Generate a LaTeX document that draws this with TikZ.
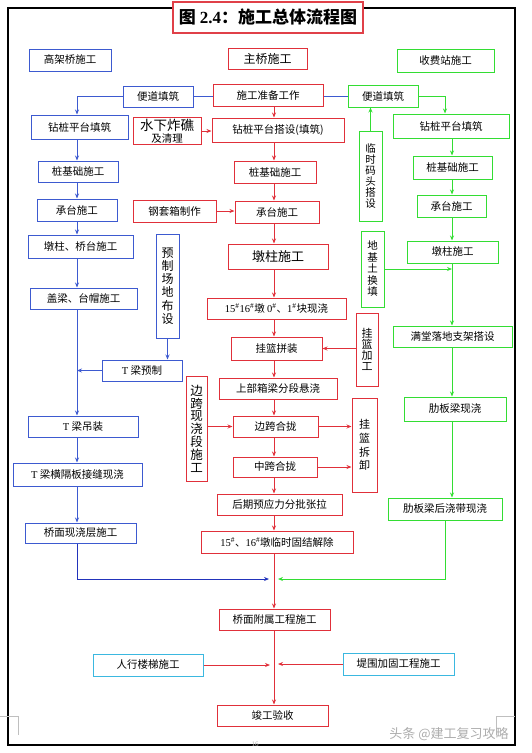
\documentclass[tikz,border=0pt]{standalone}
\usepackage{fontspec}
\setmainfont{Liberation Serif}
\newfontfamily\cjk{Noto Sans CJK SC}
\usetikzlibrary{arrows.meta}
\definecolor{blu}{HTML}{3D5AD0}
\definecolor{nav}{HTML}{2233BB}
\definecolor{rd}{HTML}{E0303A}
\definecolor{grn}{HTML}{33DD33}
\definecolor{cyn}{HTML}{3BB8E0}
\definecolor{ttl}{HTML}{E04048}
\newcommand\fz[2]{\fontsize{#1}{#2}\selectfont}
\newcommand\lat[1]{{\rmfamily #1}}
\tikzset{
  >={Stealth[length=5pt,width=4pt]},
  box/.style={draw, line width=1pt, fill=white, inner sep=1pt, align=center,
              font=\cjk\fz{10.5}{12}},
  wh/.style 2 args={minimum width=#1pt, minimum height=#2pt},
  bbox/.style={box, draw=blu},
  rbox/.style={box, draw=rd},
  gbox/.style={box, draw=grn},
  cbox/.style={box, draw=cyn},
  vbox/.style={text width=13pt, inner sep=0pt},
  bl/.style={->, line width=1pt, draw=blu},
  rl/.style={->, line width=1pt, draw=rd},
  gl/.style={->, line width=1pt, draw=grn},
}
\begin{document}
\begin{tikzpicture}[x=1pt,y=-1pt]
  \useasboundingbox (0,0) rectangle (532,753);
  \draw[line width=1.5pt] (8,8) rectangle (515,745);
  \draw[gray!50] (0,716) -- (18,716) -- (18,735) (496,735) -- (496,716) -- (515,716);
  \node[draw=ttl, line width=2.5pt, fill=white, wh={190}{31}, font=\cjk\bfseries\fz{17}{20}] (title) at (268,17.5) {图 \lat{\bfseries 2.4}：施工总体流程图};
  % left column
  \node[bbox,wh={82}{22}] (b0) at (70,60) {高架桥施工};
  \node[bbox,wh={70}{21}] (b1) at (158,96.5) {便道填筑};
  \node[bbox,wh={97}{24}] (b2) at (79.5,127) {钻桩平台填筑};
  \node[bbox,wh={80}{21}] (b3) at (78,171.5) {桩基础施工};
  \node[bbox,wh={80}{22}] (b4) at (77,210) {承台施工};
  \node[bbox,wh={105}{23}] (b5) at (80.5,246.5) {墩柱、桥台施工};
  \node[bbox,wh={107}{21}] (b6) at (83.5,298.5) {盖梁、台帽施工};
  \node[bbox,vbox,wh={23}{104},font=\cjk\fz{12}{13.2}] (bv) at (167.5,286) {预\\制\\场\\地\\布\\设};
  \node[bbox,wh={80}{21}] (b7) at (142,370.5) {\lat{T} 梁预制};
  \node[bbox,wh={110}{21}] (b8) at (83,426.5) {\lat{T} 梁吊装};
  \node[bbox,wh={129}{23}] (b9) at (77.5,474.5) {\lat{T} 梁横隔板接缝现浇};
  \node[bbox,wh={111}{20}] (b10) at (80.5,533) {桥面现浇层施工};
  % main bridge
  \node[rbox,wh={79}{21},font=\cjk\fz{12}{14}] (r0) at (267.5,58.5) {主桥施工};
  \node[rbox,wh={110}{22}] (r1) at (268,95) {施工准备工作};
  \node[rbox,wh={68}{26},font=\cjk\fz{13.5}{13}] (ra) at (167,131) {水下炸礁\\[-1pt]{\fz{10.5}{11}及清理}};
  \node[rbox,wh={132}{24}] (r2) at (278,130) {钻桩平台搭设(填筑)};
  \node[rbox,wh={82}{22}] (r3) at (275,172) {桩基础施工};
  \node[rbox,wh={83}{22}] (rb) at (174.5,211) {钢套箱制作};
  \node[rbox,wh={84}{22}] (r4) at (277,212) {承台施工};
  \node[rbox,wh={100}{25},font=\cjk\fz{13}{15}] (r5) at (278,256.5) {墩柱施工};
  \node[rbox,wh={139}{21}] (r6) at (276.5,308.5) {\lat{15$^{\#}$16$^{\#}$}墩 \lat{0$^{\#}$}、\lat{1$^{\#}$}块现浇};
  \node[rbox,vbox,wh={22}{73},font=\cjk\fz{11}{10.8}] (rc) at (367,349.5) {挂\\篮\\加\\工};
  \node[rbox,wh={91}{23}] (r7) at (276.5,348.5) {挂篮拼装};
  \node[rbox,wh={118}{21}] (r8) at (278,388.5) {上部箱梁分段悬浇};
  \node[rbox,vbox,wh={21}{105},font=\cjk\fz{12.5}{12.8}] (rd) at (196.5,428.5) {边\\跨\\现\\浇\\段\\施\\工};
  \node[rbox,wh={85}{21}] (r9) at (275.5,426.5) {边跨合拢};
  \node[rbox,vbox,wh={25}{94},font=\cjk\fz{11}{13.7}] (re) at (364.5,445) {挂\\篮\\拆\\卸};
  \node[rbox,wh={84}{20}] (r10) at (275,467) {中跨合拢};
  \node[rbox,wh={125}{21}] (r11) at (279.5,504.5) {后期预应力分批张拉};
  \node[rbox,wh={152}{22}] (r12) at (277,542) {\lat{15$^{\#}$}、\lat{16$^{\#}$}墩临时固结解除};
  \node[rbox,wh={111}{21}] (r13) at (274.5,619.5) {桥面附属工程施工};
  \node[rbox,wh={111}{21}] (r14) at (272.5,715.5) {竣工验收};
  \node[cbox,wh={110}{22}] (c1) at (148,665) {人行楼梯施工};
  \node[cbox,wh={111}{22}] (c2) at (398.5,664) {堤围加固工程施工};
  % toll station
  \node[gbox,wh={97}{23}] (g0) at (445.5,60.5) {收费站施工};
  \node[gbox,wh={70}{22}] (g1) at (383,96) {便道填筑};
  \node[gbox,vbox,wh={23}{90},font=\cjk\fz{10.5}{11}] (gv1) at (370.5,176) {临\\时\\码\\头\\搭\\设};
  \node[gbox,wh={116}{24}] (g2) at (451,126) {钻桩平台填筑};
  \node[gbox,wh={79}{23}] (g3) at (452.5,167.5) {桩基础施工};
  \node[gbox,wh={69}{22}] (g4) at (451.5,206) {承台施工};
  \node[gbox,vbox,wh={23}{76},font=\cjk\fz{10.5}{11.5}] (gv2) at (372.5,269) {地\\基\\土\\换\\填};
  \node[gbox,wh={91}{22}] (g5) at (452.5,252) {墩柱施工};
  \node[gbox,wh={119}{21}] (g6) at (452.5,336.5) {满堂落地支架搭设};
  \node[gbox,wh={102}{24}] (g7) at (455,409) {肋板梁现浇};
  \node[gbox,wh={114}{22}] (g8) at (445,509) {肋板梁后浇带现浇};
  \node[font=\fz{7}{8}, text=gray!60] (pg) at (255,744) {16};
  \node[font=\cjk\fz{13}{15}, text=gray!65] (wm) at (449,734) {头条 @建工复习攻略};
  \coordinate (bcol) at (77,0); \coordinate (rcol) at (274,0);
  \coordinate (gcol) at (452,0); \coordinate (gtop) at (445,0);
  \coordinate (mL) at (269,579); \coordinate (mR) at (278,579);
  \coordinate (sL) at (270,0); \coordinate (sR) at (278,0);
  \draw[bl,-] (b1.east) -- (b1.east -| r1.west); \draw[bl,-] (g1.west -| r1.east) -- (g1.west);
  \draw[bl] (b1.west) -| (b2.north -| bcol);
  \foreach \a/\b in {b2/b3,b3/b4,b4/b5,b5/b6,b6/b8,b8/b9,b9/b10}
    \draw[bl] (\a.south -| bcol) -- (\b.north -| bcol);
  \draw[bl] (bv.south) -- (bv.south |- b7.north); \draw[bl] (b7.west) -- (b7.west -| bcol);
  \draw[bl,draw=nav] (b10.south -| bcol) |- (mL);
  \foreach \a/\b in {r1/r2,r2/r3,r3/r4,r4/r5,r5/r6,r6/r7,r7/r8,r8/r9,r9/r10,r10/r11,r11/r12,r12/r13,r13/r14}
    \draw[rl] (\a.south -| rcol) -- (\b.north -| rcol);
  \draw[rl] (ra.east) -- (ra.east -| r2.west); \draw[rl] (rb.east) -- (rb.east -| r4.west);
  \draw[rl] (r7.east -| rc.west) -- (r7.east); \draw[rl] (r9.west -| rd.east) -- (r9.west);
  \draw[rl] (r9.east) -- (r9.east -| re.west); \draw[rl] (r10.east) -- (r10.east -| re.west);
  \draw[rl] (c1.east) -- (c1.east -| sL); \draw[rl] (c2.west) -- (c2.west -| sR);
  \draw[gl] (g1.east) -| (g2.north -| gtop); \draw[gl] (gv1.north) -- (gv1.north |- g1.south);
  \foreach \a/\b in {g2/g3,g3/g4,g4/g5,g5/g6,g6/g7,g7/g8}
    \draw[gl] (\a.south -| gcol) -- (\b.north -| gcol);
  \draw[gl] (gv2.east) -- (gv2.east -| gcol);
  \draw[gl] (g8.south) |- (mR);
\end{tikzpicture}
\end{document}
